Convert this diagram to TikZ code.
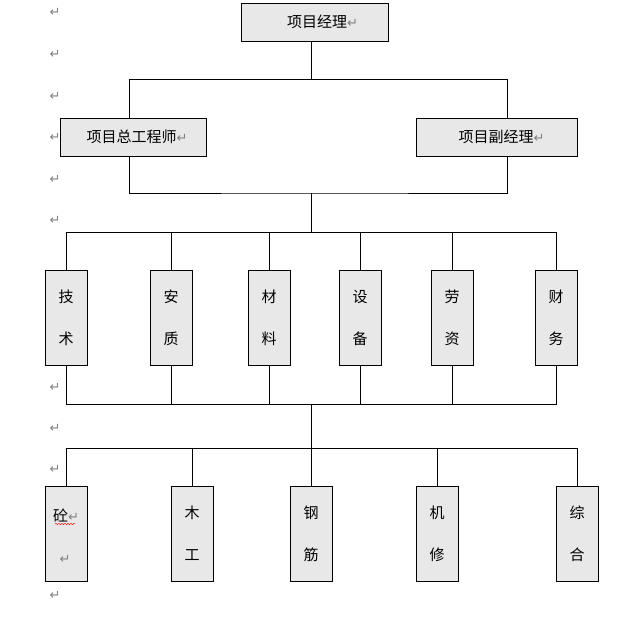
\documentclass[tikz,border=0pt]{standalone}
\usepackage{fontspec}
\usetikzlibrary{decorations.pathmorphing}
\newfontfamily\cjk{Noto Sans CJK SC}
\newfontfamily\symb{DejaVu Sans}
\newcommand{\pmark}{{\symb\color{gray}\fontsize{13}{15}\selectfont ↵}}
\begin{document}
\begin{tikzpicture}[%
    x=1pt,
    y=-1pt,
    font=\cjk\fontsize{15}{18}\selectfont,
    widebox/.style={
      rectangle,
      draw=black,
      fill=gray!18,
      minimum height=38pt,
      inner sep=0pt
    },
    tallbox/.style={
      rectangle,
      draw=black,
      fill=gray!18,
      minimum width=42pt,
      minimum height=95pt,
      align=center,
      text width=20pt,
      inner sep=0pt
    },
    pmk/.style={
      inner sep=0pt
    },
  ]
    \useasboundingbox (0,0) rectangle (638,621);
    % top levels
    \node[widebox,minimum width=147pt] (pm) at (314.5,22) {\hspace{16pt}项目经理\pmark};
    \node[widebox,minimum width=146pt] (ce) at (133,137) {\hspace{8pt}项目总工程师\pmark};
    \node[widebox,minimum width=161pt] (dm) at (496.5,137) {\hspace{10pt}项目副经理\pmark};
    % departments
    \foreach \name/\x/\ta/\tb in {d1/66/技/术,d2/171/安/质,d3/269/材/料,d4/360/设/备,d5/452/劳/资,d6/556/财/务}
      \node[tallbox] (\name) at (\x,317.5) {\ta\\[24pt]\tb};
    % teams
    \foreach \name/\x/\ta/\tb in {t2/192/木/工,t3/311/钢/筋,t4/437/机/修,t5/577/综/合}
      \node[tallbox] (\name) at (\x,533.5) {\ta\\[24pt]\tb};
    \node[tallbox,text width=30pt] (t1) at (66,533.5) {\hspace{6pt}砼\pmark\\[24pt]\hspace{-2pt}\pmark};
    \draw[red,decorate,decoration={snake,amplitude=0.8pt,segment length=3pt}] (55,524) -- (75,524);
    % connectors
    \coordinate (j1) at (311,79);
    \coordinate (j2) at (311,193);
    \coordinate (j3) at (311,232);
    \coordinate (j4) at (311,404);
    \coordinate (j5) at (311,448);
    \draw (pm.south -| j1) -- (j1);
    \draw (j1) -| (129,118);
    \draw (j1) -| (507,118);
    \draw (129,156) |- (j2) -| (507,156);
    \draw (j2) -- (j3);
    \foreach \name in {d1,d2,d3,d4,d5,d6} {
      \draw (j3) -| (\name.north);
      \draw (j4) -| (\name.south);
    }
    \draw (j4) -- (j5);
    \foreach \name in {t1,t2,t3,t4,t5}
      \draw (j5) -| (\name.north);
    % paragraph marks
    \foreach \y in {12,54,96,137,179,220,387,428,469,595}
      \node[pmk] at (55,\y) {\pmark};
  \end{tikzpicture}
\end{document}
